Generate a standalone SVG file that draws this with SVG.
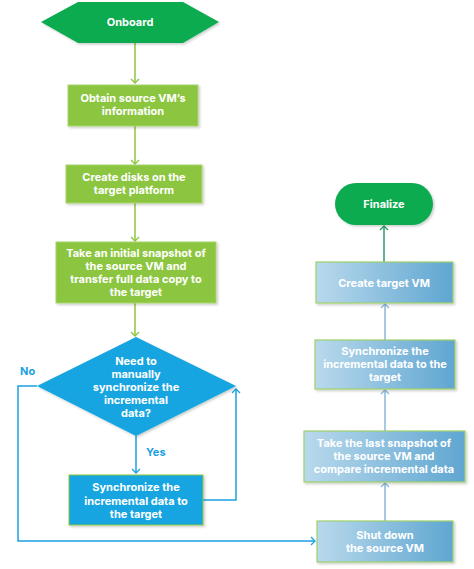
<svg xmlns="http://www.w3.org/2000/svg" width="474" height="569" viewBox="0 0 474 569">
<defs>
<style>
.t{font-family:Inter,"Liberation Sans",sans-serif;font-weight:700;font-size:11px;fill:#fff;text-anchor:middle}
.lbl{font-family:Inter,"Liberation Sans",sans-serif;font-weight:700;font-size:11px;fill:#1ba1e2}
.g{fill:#8cc63f;stroke:#a6d46a;stroke-width:1}
.b{fill:#16a5e0;stroke:#8cc63f;stroke-width:1}
.rb{fill:url(#grad);stroke:#9fd16a;stroke-width:1.2}
.cg{stroke:#8cc63f;stroke-width:1.5;fill:none}
.cb{stroke:#1ba1e2;stroke-width:1.5;fill:none}
.cl{stroke:#8ab8d8;stroke-width:1.5;fill:none}
.cd{stroke:#2a9d6a;stroke-width:1.5;fill:none}
</style>
<linearGradient id="grad" x1="0" y1="0" x2="1" y2="0">
<stop offset="0" stop-color="#b9d9ec"/>
<stop offset="1" stop-color="#5fa6d1"/>
</linearGradient>
<filter id="sh" x="-10%" y="-10%" width="130%" height="140%">
<feDropShadow dx="1.5" dy="1.5" stdDeviation="1" flood-color="#000" flood-opacity="0.2"/>
</filter>
<marker id="ag" markerWidth="10" markerHeight="10" refX="5" refY="5" orient="auto" markerUnits="userSpaceOnUse"><path d="M1,1 L5,5 L1,9" fill="none" stroke="#8cc63f" stroke-width="1.3"/></marker>
<marker id="ab" markerWidth="10" markerHeight="10" refX="5" refY="5" orient="auto" markerUnits="userSpaceOnUse"><path d="M1,1 L5,5 L1,9" fill="none" stroke="#1ba1e2" stroke-width="1.3"/></marker>
<marker id="al" markerWidth="10" markerHeight="10" refX="5" refY="5" orient="auto" markerUnits="userSpaceOnUse"><path d="M1,1 L5,5 L1,9" fill="none" stroke="#8ab8d8" stroke-width="1.3"/></marker>
<marker id="ad" markerWidth="10" markerHeight="10" refX="5" refY="5" orient="auto" markerUnits="userSpaceOnUse"><path d="M1,1 L5,5 L1,9" fill="none" stroke="#2a9d6a" stroke-width="1.3"/></marker>
</defs>
<rect width="474" height="569" fill="#fff"/>

<g id="connectors">
<path class="cg" d="M135,43 V83" marker-end="url(#ag)"/>
<path class="cg" d="M135,126 V164" marker-end="url(#ag)"/>
<path class="cg" d="M135,203 V241" marker-end="url(#ag)"/>
<path class="cg" d="M135,303 V336" marker-end="url(#ag)"/>
<path class="cb" d="M136,436 V473" marker-end="url(#ab)"/>
<path class="cb" d="M203,500 H236 V389" marker-end="url(#ab)"/>
<path class="cb" d="M37,386 H18 V541 H315" marker-end="url(#ab)"/>
<path class="cl" d="M385,521 V483" marker-end="url(#al)"/>
<path class="cl" d="M385,431 V390" marker-end="url(#al)"/>
<path class="cl" d="M385,340 V304" marker-end="url(#al)"/>
<path class="cd" d="M384,262 V226" marker-end="url(#ad)"/>
<text class="lbl" x="20" y="375">No</text>
<text class="lbl" x="146" y="456">Yes</text>
</g>

<g id="onboard">
<polygon points="41,22 78,2 183,2 219,22 183,43 78,43" fill="#0aab50" filter="url(#sh)"/>
<text class="t" x="130" y="26">Onboard</text>
</g>

<g id="obtain">
<rect class="g" x="68" y="85" width="130" height="41" filter="url(#sh)"/>
<text class="t" x="133" y="102">Obtain source VM’s</text>
<text class="t" x="133" y="115">information</text>
</g>

<g id="create-disks">
<rect class="g" x="66" y="165" width="136" height="38" filter="url(#sh)"/>
<text class="t" x="134" y="181">Create disks on the</text>
<text class="t" x="134" y="194">target platform</text>
</g>

<g id="initial-snapshot">
<rect class="g" x="56" y="242" width="160" height="61" filter="url(#sh)"/>
<text class="t" x="136" y="257">Take an initial snapshot of</text>
<text class="t" x="136" y="270">the source VM and</text>
<text class="t" x="136" y="283">transfer full data copy to</text>
<text class="t" x="136" y="296">the target</text>
</g>

<g id="decision">
<polygon points="136,337 236,386 136,436 37,386" fill="#16a5e0" filter="url(#sh)"/>
<text class="t" x="136" y="365">Need to</text>
<text class="t" x="136" y="378">manually</text>
<text class="t" x="136" y="391">synchronize the</text>
<text class="t" x="136" y="404">incremental</text>
<text class="t" x="136" y="417">data?</text>
</g>

<g id="sync-left">
<rect class="b" x="69" y="475" width="134" height="50" filter="url(#sh)"/>
<text class="t" x="136" y="491">Synchronize the</text>
<text class="t" x="136" y="505">incremental data to</text>
<text class="t" x="136" y="518">the target</text>
</g>

<g id="shutdown">
<rect class="rb" x="317" y="521" width="136" height="41" filter="url(#sh)"/>
<text class="t" x="385" y="539">Shut down</text>
<text class="t" x="385" y="552">the source VM</text>
</g>

<g id="last-snapshot">
<rect class="rb" x="304" y="431" width="161" height="51" filter="url(#sh)"/>
<text class="t" x="384" y="447">Take the last snapshot of</text>
<text class="t" x="384" y="460">the source VM and</text>
<text class="t" x="384" y="473">compare incremental data</text>
</g>

<g id="sync-right">
<rect class="rb" x="315" y="340" width="140" height="49" filter="url(#sh)"/>
<text class="t" x="385" y="355">Synchronize the</text>
<text class="t" x="385" y="368">incremental data to the</text>
<text class="t" x="385" y="381">target</text>
</g>

<g id="create-vm">
<rect class="rb" x="316" y="262" width="137" height="41" filter="url(#sh)"/>
<text class="t" x="384" y="287">Create target VM</text>
</g>

<g id="finalize">
<rect x="335" y="183" width="98" height="42" rx="21" fill="#0aab50" filter="url(#sh)"/>
<text class="t" x="384" y="208">Finalize</text>
</g>
</svg>
